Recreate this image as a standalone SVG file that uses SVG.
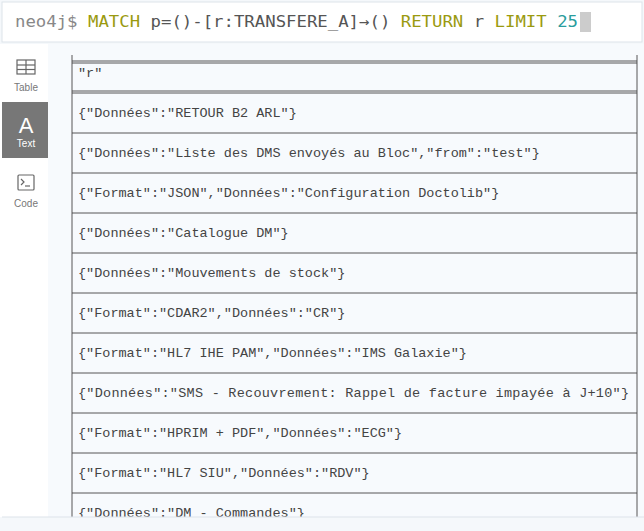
<svg xmlns="http://www.w3.org/2000/svg" width="644" height="531" viewBox="0 0 644 531">
<style>
.q{font-family:"DejaVu Sans Mono","Liberation Mono",monospace;font-size:16px}
.t{font-family:"Liberation Mono",monospace;font-size:13.5px;fill:#444}
.sl{font-family:"Liberation Sans",sans-serif;font-size:10px;fill:#777;text-anchor:middle}
.ln{stroke:#444;stroke-width:0.9;fill:none}
</style>
<rect width="644" height="531" fill="#f5f8fb"/>
<rect x="2" y="2" width="640" height="40" fill="#fff" stroke="#dde3ea"/>
<text class="q" x="15" y="27" textLength="563" lengthAdjust="spacingAndGlyphs"><tspan fill="#888">neo4j$ </tspan><tspan fill="#9a9a10"> MATCH</tspan><tspan fill="#555"> p=()-[r:TRANSFERE_A]→() </tspan><tspan fill="#9a9a10">RETURN</tspan><tspan fill="#555"> r </tspan><tspan fill="#9a9a10">LIMIT</tspan><tspan fill="#2a9d9d"> 25</tspan></text>
<rect x="580" y="12" width="11" height="20" fill="#ccc"/>
<rect x="0" y="44" width="48" height="473" fill="#fff"/>
<rect x="48" y="44" width="596" height="473" fill="#f7fafd"/>
<g id="sidebar">
<g fill="none" stroke="#666" stroke-width="1.2"><rect x="17" y="60" width="18" height="14"/><line x1="17" y1="65" x2="35" y2="65"/><line x1="17" y1="69.5" x2="35" y2="69.5"/><line x1="26" y1="60" x2="26" y2="74"/></g>
<text class="sl" x="26" y="91">Table</text>
<rect x="2" y="102" width="46" height="56" fill="#777"/>
<text x="26" y="133" font-family="Liberation Sans,sans-serif" font-size="22" fill="#fff" text-anchor="middle">A</text>
<text x="26" y="147" font-family="Liberation Sans,sans-serif" font-size="10" fill="#fff" text-anchor="middle">Text</text>
<g fill="none" stroke="#666" stroke-width="1.2"><rect x="18" y="175" width="16" height="15" rx="1"/><polyline points="21,179 24,182 21,185"/><line x1="25" y1="186" x2="30" y2="186"/></g>
<text class="sl" x="26" y="207">Code</text>
</g>
<g id="table">
<line class="ln" x1="72" y1="55" x2="72" y2="517"/>
<line class="ln" x1="637" y1="55" x2="637" y2="517"/>
<line class="ln" x1="72" y1="61" x2="637" y2="61"/><line class="ln" x1="72" y1="63" x2="637" y2="63"/>
<line class="ln" x1="72" y1="91" x2="637" y2="91"/><line class="ln" x1="72" y1="93" x2="637" y2="93"/>
<line class="ln" x1="72" y1="133" x2="637" y2="133"/>
<line class="ln" x1="72" y1="173" x2="637" y2="173"/>
<line class="ln" x1="72" y1="213" x2="637" y2="213"/>
<line class="ln" x1="72" y1="253" x2="637" y2="253"/>
<line class="ln" x1="72" y1="293" x2="637" y2="293"/>
<line class="ln" x1="72" y1="333" x2="637" y2="333"/>
<line class="ln" x1="72" y1="373" x2="637" y2="373"/>
<line class="ln" x1="72" y1="413" x2="637" y2="413"/>
<line class="ln" x1="72" y1="453" x2="637" y2="453"/>
<line class="ln" x1="72" y1="493" x2="637" y2="493"/>
<text class="t" x="78" y="77">"r"</text>
<text class="t" x="78" y="117">{"Données":"RETOUR B2 ARL"}</text>
<text class="t" x="78" y="157">{"Données":"Liste des DMS envoyés au Bloc","from":"test"}</text>
<text class="t" x="78" y="197">{"Format":"JSON","Données":"Configuration Doctolib"}</text>
<text class="t" x="78" y="237">{"Données":"Catalogue DM"}</text>
<text class="t" x="78" y="277">{"Données":"Mouvements de stock"}</text>
<text class="t" x="78" y="317">{"Format":"CDAR2","Données":"CR"}</text>
<text class="t" x="78" y="357">{"Format":"HL7 IHE PAM","Données":"IMS Galaxie"}</text>
<text class="t" x="78" y="397" textLength="551">{"Données":"SMS - Recouvrement: Rappel de facture impayée à J+10"}</text>
<text class="t" x="78" y="437">{"Format":"HPRIM + PDF","Données":"ECG"}</text>
<text class="t" x="78" y="477">{"Format":"HL7 SIU","Données":"RDV"}</text>
<text class="t" x="78" y="517">{"Données":"DM - Commandes"}</text>
</g>
<rect x="0" y="517" width="644" height="14" fill="#f5f8fb"/>
<line x1="2" y1="517" x2="644" y2="517" stroke="#dde3ea"/>
</svg>
